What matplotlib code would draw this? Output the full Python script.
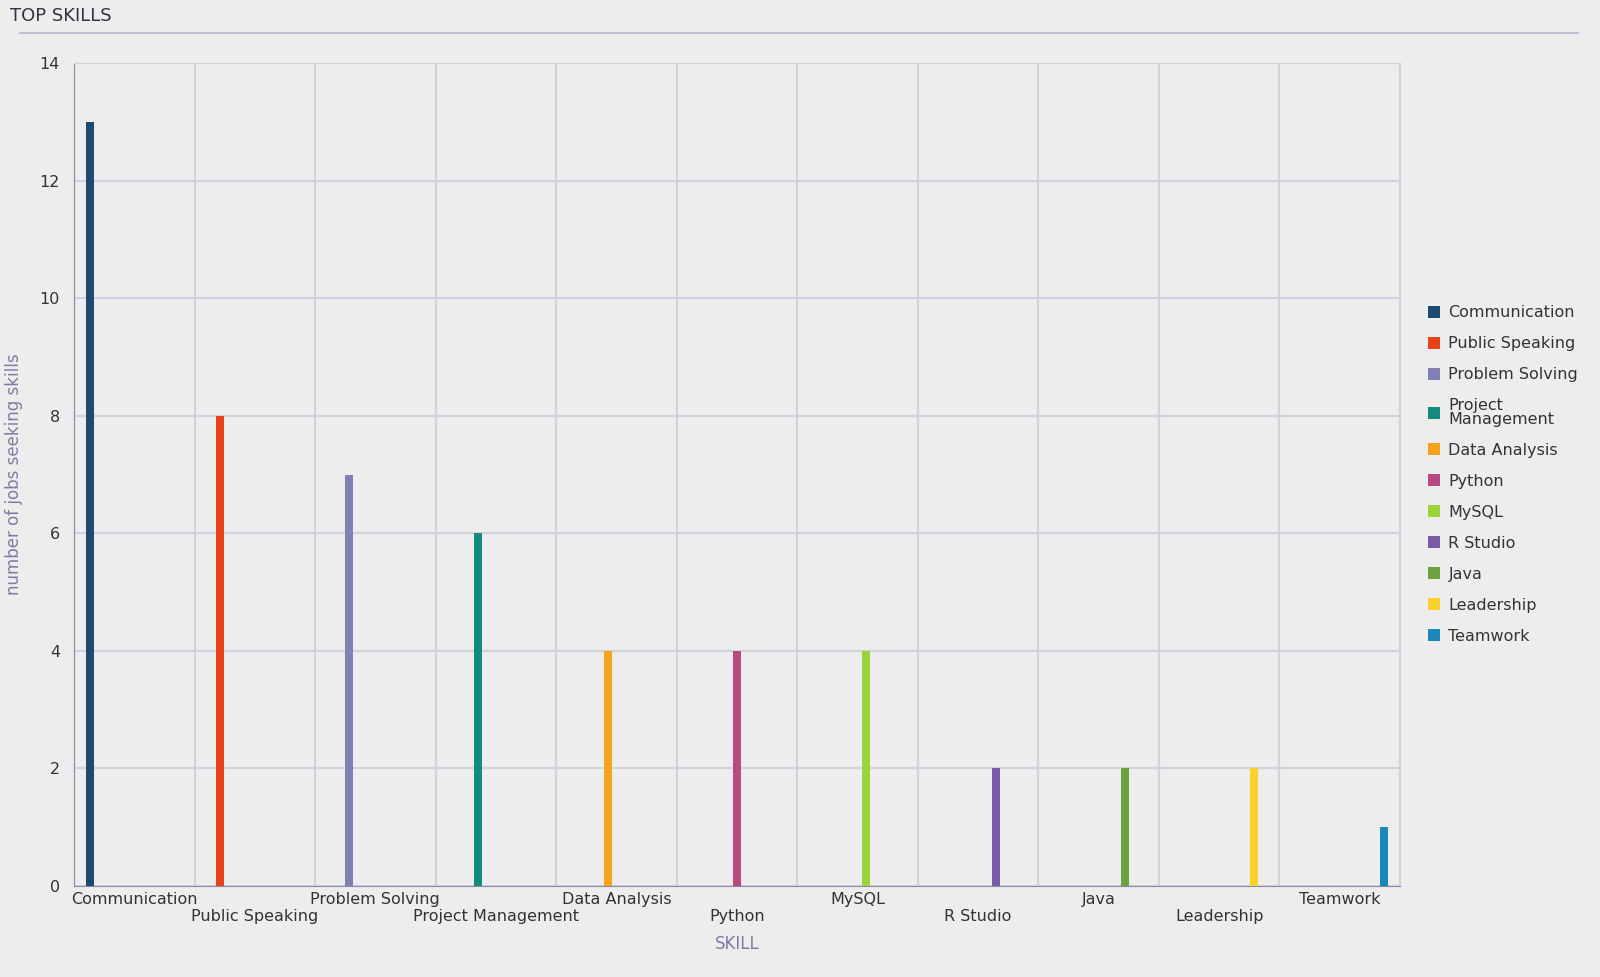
import matplotlib
matplotlib.use("Agg")
import matplotlib.pyplot as plt
import numpy as np

skills = ["Communication", "Public Speaking", "Problem Solving", "Project Management",
          "Data Analysis", "Python", "MySQL", "R Studio", "Java", "Leadership", "Teamwork"]
legend_labels = ["Communication", "Public Speaking", "Problem Solving", "Project\nManagement",
                 "Data Analysis", "Python", "MySQL", "R Studio", "Java", "Leadership", "Teamwork"]
values = [13, 8, 7, 6, 4, 4, 4, 2, 2, 2, 1]
colors = ["#1d4b70", "#e6431b", "#8080b2", "#138a7c", "#f7a21c", "#b94a80",
          "#9bd33b", "#7b5aa7", "#6ca33f", "#fad12a", "#1b87b8"]

bg = "#ededed"
fig = plt.figure(figsize=(16, 9.77), dpi=100, facecolor=bg)
ax = fig.add_axes([74/1600, 1-886/977, (1400-74)/1600, (886-63)/977], facecolor=bg)

n = len(skills)
gw = 0.8 / n
for i, (v, c, lab) in enumerate(zip(values, colors, legend_labels)):
    x = i - 0.4 + (i + 0.5) * gw
    ax.bar(x, v, width=gw*0.9, color=c, label=lab, zorder=3)

ax.set_xlim(-0.5, n - 0.5)
ax.set_ylim(0, 14)
ax.set_yticks(range(0, 15, 2))
ax.set_xticks(range(n))
ax.set_xticklabels([s if i % 2 == 0 else "\n" + s for i, s in enumerate(skills)])
ax.set_xticks(np.arange(-0.5, n, 1), minor=True)
ax.grid(False)
ax.grid(which="minor", axis="x", color="#d2d2de", lw=1.5, zorder=0)
ax.grid(which="major", axis="y", color="#d2d2de", lw=1.5, zorder=0)
ax.tick_params(axis="x", which="both", length=0, labelsize=11.5, colors="#333333", pad=4)
ax.tick_params(axis="y", length=0, labelsize=11.5, colors="#333333", pad=10)
for s in ["top", "right"]:
    ax.spines[s].set_color("#d2d2de")
for s in ["left", "bottom"]:
    ax.spines[s].set_color("#8a8aa8")
ax.set_xlabel("SKILL", fontsize=12, color="#7c7ca6", labelpad=8)
ax.set_ylabel("number of jobs seeking skills", fontsize=12, color="#7c7ca6", labelpad=12)

leg = ax.legend(loc="center left", bbox_to_anchor=(1.01, 0.5), frameon=False,
                fontsize=11.5, handlelength=0.8, handleheight=0.8, labelspacing=1.0,
                handletextpad=0.5, labelcolor="#333333")
for t in leg.get_texts():
    t.set_linespacing(0.9)

fig.text(10/1600, 1-16/977, "TOP SKILLS", fontsize=13, color="#333344", va="center")
fig.add_artist(plt.Line2D([20/1600, 1578/1600], [1-33/977, 1-33/977], color="#b8b8cc", lw=1.2))

fig.savefig("out.png", dpi=100, facecolor=bg)
